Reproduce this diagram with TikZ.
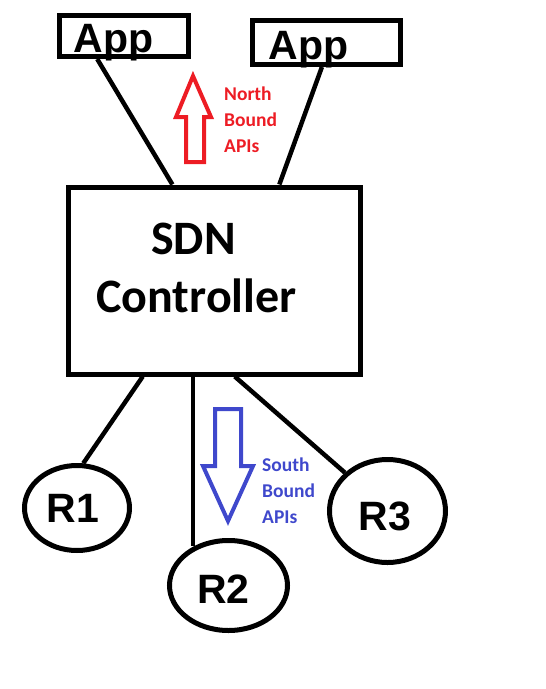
\documentclass[tikz,border=0pt]{standalone}
\usepackage{fontspec}
\usetikzlibrary{calc,shapes.geometric}
\newfontfamily\carlito{Carlito}
\newfontfamily\arialf{Liberation Sans}
\definecolor{nred}{RGB}{237,28,36}
\definecolor{sblue}{RGB}{63,72,204}
\tikzset{
  box/.style={draw=black,line width=5pt,inner sep=0pt,rectangle},
  router/.style={draw=black,line width=5pt,inner sep=0pt,ellipse},
  conn/.style={draw=black,line width=4.5pt},
  bigtxt/.style={inner sep=0pt,anchor=base,font=\arialf\bfseries\fontsize{41}{44}\selectfont},
  sdntxt/.style={inner sep=0pt,anchor=base,font=\carlito\bfseries\fontsize{48}{52}\selectfont},
  apitxt/.style={inner sep=0pt,anchor=base west,align=left,font=\carlito\bfseries\fontsize{19.5}{26}\selectfont},
  apiarrow/.style={line width=4pt,line join=miter,fill=white}
}
\begin{document}
\begin{tikzpicture}[x=1pt,y=-1pt]
\useasboundingbox (0,0) rectangle (546,689);
% boxes
\node[box,minimum width=129pt,minimum height=41pt] (app1) at (124,36) {};
\node[box,minimum width=148pt,minimum height=44pt] (app2) at (326.5,42.5) {};
\node[box,minimum width=292pt,minimum height=187pt] (sdn) at (214,280.5) {};
% routers
\node[router,minimum width=105pt,minimum height=85pt] (r1) at (77,508) {};
\node[router,minimum width=118pt,minimum height=90pt] (r2) at (228.5,585.5) {};
\node[router,minimum width=116pt,minimum height=103pt] (r3) at (387.5,511) {};
% texts
\node[bigtxt] (app1t) at (113.5,52) {App};
\node[bigtxt] (app2t) at (308.5,59) {App};
\node[sdntxt] (sdnt1) at (193.5,254) {SDN};
\node[sdntxt] (sdnt2) at (196.5,312) {Controller};
\node[bigtxt] (r1t) at (73,522) {R1};
\node[bigtxt] (r2t) at (223.5,603) {R2};
\node[bigtxt] (r3t) at (385,530) {R3};
% connector points
\coordinate (a1) at ($(app1.south west)!0.3!(app1.south east)$);
\coordinate (a2) at ($(app2.south west)!0.47!(app2.south east)$);
\coordinate (s1) at ($(sdn.north west)!0.36!(sdn.north east)$);
\coordinate (s2) at ($(sdn.north west)!0.72!(sdn.north east)$);
\coordinate (b1) at ($(sdn.south west)!0.26!(sdn.south east)$);
\coordinate (b2) at ($(sdn.south west)!0.43!(sdn.south east)$);
\coordinate (b3) at ($(sdn.south west)!0.57!(sdn.south east)$);
\draw[conn] (a1) -- (s1);
\draw[conn] (a2) -- (s2);
\draw[conn] (b1) -- (r1.82);
\draw[conn] (b2) -- (b2 |- r2.131);
\draw[conn] (b3) -- (r3.138);
% API arrows
\draw[apiarrow,draw=nred] (193,76) -- (211,117) -- (204,117) -- (204,162) -- (186,162) -- (186,117) -- (176,117) -- cycle;
\draw[apiarrow,draw=sblue] (228,521) -- (253,466) -- (241,466) -- (241,409) -- (215,409) -- (215,466) -- (203,466) -- cycle;
\node[apitxt,text=nred] (nlab) at (224,152) {North\\Bound\\APIs};
\node[apitxt,text=sblue] (slab) at (262,523) {South\\Bound\\APIs};
\end{tikzpicture}
\end{document}
